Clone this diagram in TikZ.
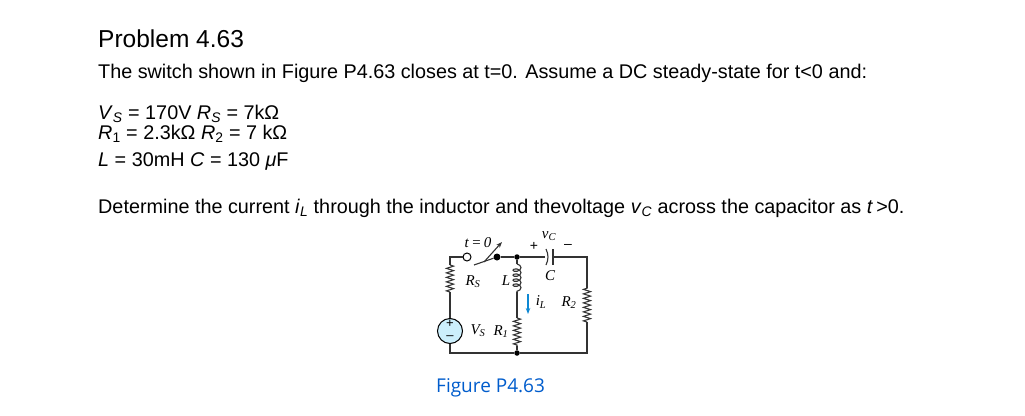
\documentclass[tikz,border=0pt]{standalone}
\usepackage{fontspec}
\setmainfont{Liberation Sans}
\newfontfamily\serifc{Liberation Serif}
\newfontfamily\capf{Open Sans}
\usetikzlibrary{decorations.pathmorphing,arrows.meta}
\newcommand{\vi}[2]{\textit{#1}\textsubscript{\textit{#2}}}
\newcommand{\vn}[2]{\textit{#1}\textsubscript{#2}}
\begin{document}
\begin{tikzpicture}[x=1pt,y=-1pt,
  txt/.style={anchor=base west,inner sep=0,font=\fontsize{19.8}{22}\selectfont},
  lbl/.style={inner sep=0,font=\serifc\itshape\fontsize{15}{16}\selectfont},
  wire/.style={line width=1.1pt,draw=black!80},
  res/.style={wire,decorate,decoration={zigzag,amplitude=3.5pt,segment length=4.5pt}},
  ind/.style={wire,decorate,decoration={coil,amplitude=4pt,segment length=5pt,aspect=0.6}}]
\useasboundingbox (0,0) rectangle (1025,415);
\node[txt,font=\fontsize{24.5}{26}\selectfont] (t) at (98,47) {Problem 4.63};
\node[txt] (l1) at (98,78) {The switch shown in Figure P4.63 closes at t=0. Assume a DC steady-state for t<0 and:};
\node[txt] (l2) at (98,119) {\vi{V}{S} = 170V \vi{R}{S} = 7kΩ};
\node[txt] (l3) at (98,139) {\vn{R}{1} = 2.3kΩ \vn{R}{2} = 7 kΩ};
\node[txt] (l4) at (98,166) {\textit{L} = 30mH \textit{C} = 130 \textit{μ}F};
\node[txt] (l5) at (98,213) {Determine the current \vi{i}{L} through the inductor and thevoltage \vi{v}{C} across the capacitor as \textit{t}\,>0.};
% circuit
\coordinate (tl) at (450,257);
\coordinate (bl) at (450,353);
\coordinate (tm) at (517,257);
\coordinate (bm) at (517,353);
\coordinate (tr) at (587,257);
\coordinate (br) at (587,353);
\node[draw,circle,inner sep=0,minimum size=8pt,line width=1pt,fill=white] (sw) at (467,257) {};
\node[circle,fill=black,inner sep=0,minimum size=7pt] (pv) at (497,257) {};
\node[circle,fill=black,inner sep=0,minimum size=5.5pt] (nt) at (517,257) {};
\node[circle,fill=black,inner sep=0,minimum size=5.5pt] (nb) at (517,353) {};
\node[draw,circle,minimum size=25pt,inner sep=0,fill=cyan!20,line width=1pt] (vs) at (450,331) {};
\node[inner sep=0,font=\fontsize{13}{13}\selectfont] (vp) at (450,324) {+};
\node[inner sep=0,font=\fontsize{13}{13}\selectfont] (vm) at (450,338) {–};
\draw[wire] (sw.west) -| (450,265);
\draw[res] (450,265) -- (450,292);
\draw[wire] (450,292) -- (vs.north);
\draw[wire] (vs.south) -- (bl) -- (nb) -- (br) -- (587,322);
\draw[res] (587,322) -- (587,288);
\draw[wire] (587,288) -- (tr) -- (553,257);
\draw[wire] (553,249) -- (553,265);
\draw[wire] (546,249) to[bend left=25] (546,265);
\draw[wire] (545,257) -- (nt) -- (pv);
\draw[wire] (pv) -- (474,265);
\draw[wire,-{Stealth[length=6pt]}] (484,262) -- (502,242);
\draw[wire] (nt) -- (517,264);
\draw[ind] (517,264) -- (517,292);
\draw[wire] (517,292) -- (517,318);
\draw[res] (517,318) -- (517,346);
\draw[wire] (517,346) -- (nb);
\draw[line width=1.2pt,cyan!70!blue,-{Stealth[length=6pt]}] (528,294) -- (528,314);
\node[lbl] (lt) at (478,243) {t\,=\,0};
\node[lbl] (lrs) at (473,282) {R\textsubscript{S}};
\node[lbl] (ll) at (506,281) {L};
\node[lbl] (lvs) at (478,331) {V\textsubscript{S}};
\node[lbl] (lr1) at (501,332) {R\textsubscript{1}};
\node[lbl] (lil) at (541,302) {i\textsubscript{L}};
\node[lbl] (lr2) at (569,303) {R\textsubscript{2}};
\node[lbl] (lc) at (550,276) {C};
\node[lbl] (lvc) at (549,236) {v\textsubscript{C}};
\node[inner sep=0,font=\fontsize{14}{14}\selectfont] (lp) at (534,246) {+};
\node[inner sep=0,font=\fontsize{14}{14}\selectfont] (lm) at (568,246) {–};
\node[anchor=base west,inner sep=0,font=\capf\fontsize{19}{20}\selectfont,text=blue!55!cyan!80!black] (cap) at (436,392) {Figure P4.63};
\end{tikzpicture}
\end{document}
